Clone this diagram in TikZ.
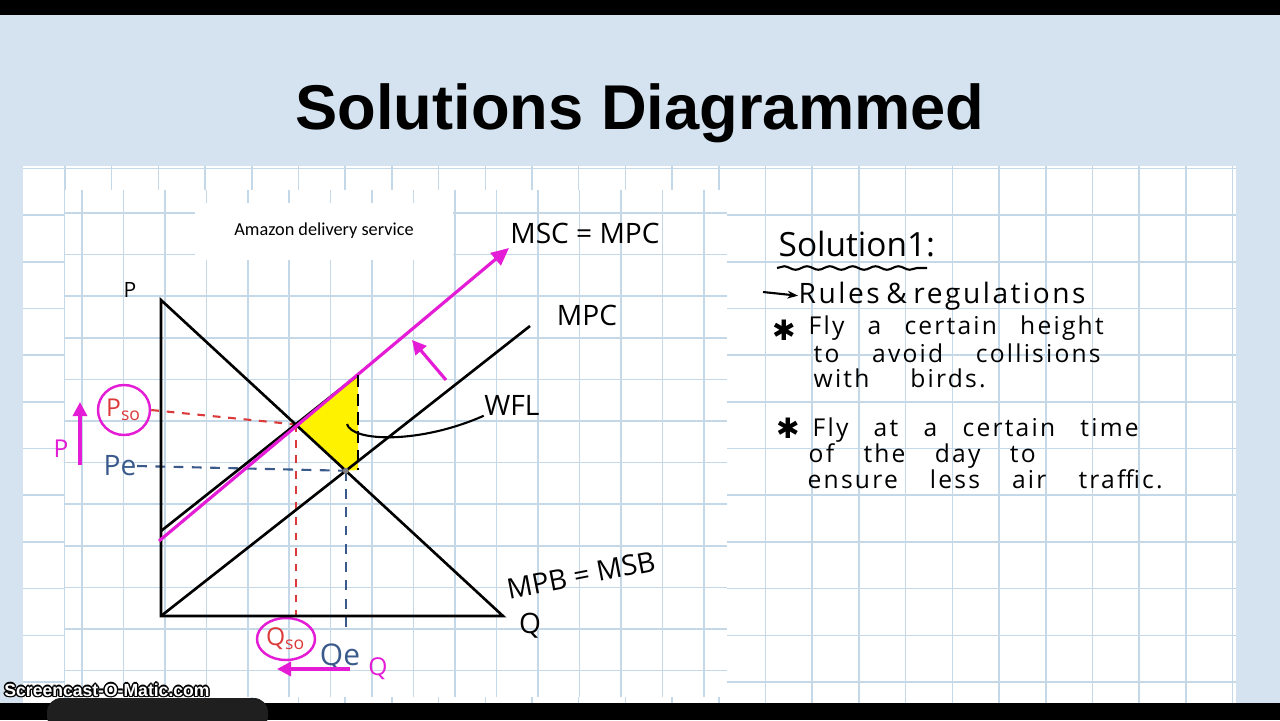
\documentclass[tikz,border=0pt]{standalone}
\usepackage{fontspec}
\setmainfont{Liberation Sans}
\newfontfamily\handFont{Open Sans}
\newfontfamily\noteFont[LetterSpace=9]{Open Sans}
\newfontfamily\bodyFont{Carlito}
\newfontfamily\symFont{DejaVu Sans}
\usetikzlibrary{positioning,arrows.meta,shapes.geometric,decorations.pathmorphing}
\definecolor{slideCol}{RGB}{212,227,239}
\definecolor{gridCol}{RGB}{197,216,231}
\definecolor{penMag}{RGB}{229,28,214}
\definecolor{penRed}{RGB}{220,58,58}
\definecolor{penBlue}{RGB}{58,90,140}
\tikzset{myGridLine/.style={color=gridCol, line width=0.45pt}}
\tikzset{myCurve/.style={line width=0.75pt,color=black}}
\tikzset{myMagLine/.style={line width=0.9pt,color=penMag}}
\tikzset{myHand/.style={font=\handFont\fontsize{8}{9}\selectfont, inner sep=0pt}}
\tikzset{myNote/.style={font=\noteFont\fontsize{7}{8}\selectfont, inner sep=0pt, anchor=base west}}
\tikzset{myRedDash/.style={color=penRed, line width=0.6pt, dash pattern=on 2.2pt off 2.2pt}}
\tikzset{myBlueDash/.style={color=penBlue, line width=0.6pt, dash pattern=on 2.8pt off 2.4pt}}
\tikzset{myRing/.style={draw=penMag, line width=0.7pt, ellipse, inner sep=0pt, text=penRed, font=\handFont\fontsize{7}{8}\selectfont}}
\tikzset{myStar/.style={font=\symFont\fontsize{8}{9}\selectfont, inner sep=0pt}}
\tikzset{myStamp/.style={font=\bfseries\fontsize{5}{6}\selectfont, inner sep=0pt}}

\begin{document}
\begin{tikzpicture}[x=0.1mm,y=-0.1mm]
        \useasboundingbox (0,0) rectangle (1280,720);
        \fill[slideCol] (0,0) rectangle (1280,720);
        \fill[black] (0,0) rectangle (1280,15);
        \node[font=\bfseries\fontsize{18}{20}\selectfont] (title) at (640,113) {Solutions Diagrammed};

        % grid paper
        \fill[white] (23,166) rectangle (1236,703);
        \begin{scope}
            \clip (23,166) rectangle (1236,703);
            \foreach \k in {0,...,25} \draw[myGridLine] ({65+46.7*\k},166) -- ({65+46.7*\k},703);
            \foreach \k in {0,...,11} \draw[myGridLine] (23,{168.3+46.7*\k}) -- (1236,{168.3+46.7*\k});
        \end{scope}
        \fill[white] (65,190) rectangle (727,697);
        \foreach \k in {0,...,15} \draw[myGridLine] ({82+41.45*\k},190) -- ({82+41.45*\k},697);
        \foreach \k in {0,...,11} \draw[myGridLine] (65,{213+41.6*\k}) -- (727,{213+41.6*\k});
        \fill[white] (195,203) rectangle (453,260);
        \node[font=\bodyFont\fontsize{5.2}{6}\selectfont] (amazon) at (324,231) {Amazon delivery service};

        % curves
        \coordinate (O) at (161,616);
        \coordinate (dTop) at (161,300);
        \coordinate (dEnd) at (503,616);
        \coordinate (mpcEnd) at (530,326);
        \coordinate (mscStart) at (161,531);
        \coordinate (mscEnd) at (358,375);
        \coordinate (magStart) at (159,541);
        \coordinate (magEnd) at (509,248);
        \coordinate (wBot) at (358,470);
        \coordinate (eq) at (intersection of dTop--dEnd and O--mpcEnd);
        \coordinate (so) at (intersection of dTop--dEnd and mscStart--mscEnd);
        \fill[yellow] (so) -- (mscEnd) -- (wBot) -- (eq) -- cycle;

        \node[myRing, minimum width=5.2mm, minimum height=5mm] (pso) at (124,410) {P\textsubscript{so}};
        \node[myRing, minimum width=5.8mm, minimum height=4.2mm] (qso) at (286,639) {Q\textsubscript{so}};
        \node[myHand, text=penBlue] (pe) at (120,466) {Pe};
        \node[myHand, text=penBlue, font=\handFont\fontsize{8.5}{10}\selectfont] (qe) at (340,657) {Qe};
        \draw[myRedDash] (pso.east) -- (so);
        \draw[myRedDash] (so) -- (so |- qso.north);
        \coordinate (qeTop) at (345,632);
        \draw[myBlueDash] (pe.east) -- (eq);
        \draw[myBlueDash] (eq) -- (eq |- qeTop);

        \draw[myCurve] (dTop) -- (O) -- (dEnd) -- cycle;
        \draw[myCurve] (O) -- (mpcEnd);
        \draw[myCurve] (mscStart) -- (mscEnd);
        \draw[myMagLine, -{Triangle[length=5pt,width=4.5pt]}] (magStart) -- (magEnd);
        \draw[myCurve, dash pattern=on 3.5pt off 1.8pt] (mscEnd) -- (wBot);
        \fill[gray] (eq) circle (3);

        % labels
        \node[myHand, font=\handFont\fontsize{6}{7}\selectfont] (pAxis) at (130,290) {P};
        \node[myHand] (mscLab) at (585,233) {MSC = MPC};
        \node[myHand] (mpcLab) at (587,315) {MPC};
        \node[myHand] (wfl) at (512,405) {WFL};
        \node[myHand, rotate=11] (mpbLab) at (581,575) {MPB = MSB};
        \node[myHand] (qAxis) at (530,626) {Q};
        \coordinate (wflStart) at (347,424);
        \draw[line width=0.6pt] (wflStart) .. controls (352,442) and (420,444) .. (wfl.south west);

        % shifts
        \node[myHand, text=penMag, font=\handFont\fontsize{7}{8}\selectfont] (pMag) at (61,449) {P};
        \node[myHand, text=penMag, font=\handFont\fontsize{7}{8}\selectfont] (qMag) at (378,669) {Q};
        \coordinate (pArrTail) at (80,465);
        \coordinate (pArrTip) at (80,402);
        \coordinate (qArrTail) at (350,669);
        \coordinate (qArrTip) at (277,669);
        \coordinate (sArrTail) at (446,380);
        \coordinate (sArrTip) at (412,340);
        \draw[myMagLine, -{Triangle[length=4pt,width=4pt]}] (pArrTail) -- (pArrTip);
        \draw[myMagLine, -{Triangle[length=4pt,width=4pt]}] (qArrTail) -- (qArrTip);
        \draw[myMagLine, -{Triangle[length=4pt,width=4pt]}] (sArrTail) -- (sArrTip);

        % notes
        \node[myNote, font=\handFont\fontsize{9.5}{11}\selectfont] (sol) at (778,256) {Solution1:};
        \coordinate (wavyA) at (777,268);
        \coordinate (wavyB) at (927,268);
        \draw[line width=0.6pt, decorate, decoration={snake, amplitude=0.5pt, segment length=6.5pt}] (wavyA) -- (wavyB);
        \node[myNote, font=\noteFont\fontsize{8}{9}\selectfont] (rules) at (798,303) {\makebox[27.9mm][s]{Rules \& regulations}};
        \coordinate (ruleTail) at (763,292);
        \draw[line width=0.6pt, -{Stealth[length=3pt]}] (ruleTail) -- (rules.west);
        \node[myStar] (star1) at (784,330) {✱};
        \node[myNote] (h1) at (808,334) {\makebox[29.5mm][s]{Fly a certain height}};
        \node[myNote] (h2) at (813,362) {\makebox[28.7mm][s]{to avoid collisions}};
        \node[myNote] (h3) at (813,387) {\makebox[17.2mm][s]{with birds.}};
        \node[myStar] (star2) at (788,428) {✱};
        \node[myNote] (t1) at (812,436) {\makebox[32.6mm][s]{Fly at a certain time}};
        \node[myNote] (t2) at (808,462) {\makebox[22.7mm][s]{of the day to}};
        \node[myNote] (t3) at (807,488) {\makebox[35.5mm][s]{ensure less air traffic.}};

        % recorder bar
        \fill[black] (0,703) rectangle (1280,720);
        \fill[black!88, rounded corners=4] (47,698) rectangle (268,730);
        \foreach \dx/\dy in {-1.5/0,1.5/0,0/-1.5,0/1.5,-1/-1,1/1,-1/1,1/-1}
            \node[myStamp, text=black] (wmEdge) at ({107+\dx},{690+\dy}) {Screencast-O-Matic.com};
        \node[myStamp, text=white] (wm) at (107,690) {Screencast-O-Matic.com};
\end{tikzpicture}
\end{document}
